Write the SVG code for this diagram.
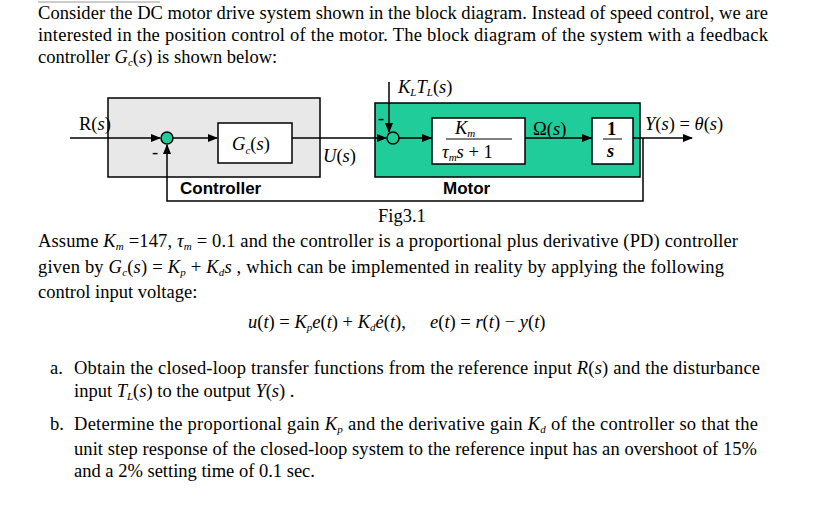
<svg xmlns="http://www.w3.org/2000/svg" width="818" height="524" viewBox="0 0 818 524">
<style>
text{font-family:"Liberation Serif",serif;font-size:18.5px;fill:#000}
.i{font-style:italic}
.b{font-family:"Liberation Sans",Arial,sans-serif;font-weight:bold;font-size:17px}
.l{stroke:#000;stroke-width:1.5;fill:none}
.box{fill:#fff;stroke:#000;stroke-width:1.5}
</style>
<defs><marker id="a" markerWidth="10" markerHeight="8" refX="9" refY="4" orient="auto" markerUnits="userSpaceOnUse"><path d="M0,0L10,4L0,8z" fill="#000"/></marker></defs>
<line x1="38" y1="2" x2="160" y2="2" stroke="#999" stroke-width="1"/>
<text x="38" y="19" textLength="730">Consider the DC motor drive system shown in the block diagram. Instead of speed control, we are</text>
<text x="38" y="41" textLength="730">interested in the position control of the motor. The block diagram of the system with a feedback</text>
<text x="38" y="63">controller <tspan class="i">G</tspan><tspan font-size="11" class="i" dy="3">c</tspan><tspan dy="-3">(</tspan><tspan class="i">s</tspan>) is shown below:</text>
<g id="controller"><rect x="108" y="98" width="212" height="79" fill="#e8e8e8" stroke="#000" stroke-width="1.5"/><text class="b" x="180" y="194">Controller</text></g>
<g id="motor"><rect x="375" y="103" width="265" height="74" fill="#1fcc9a" stroke="#000" stroke-width="1.5"/><text class="b" x="443" y="194">Motor</text></g>
<g id="sum1"><circle cx="167" cy="138" r="6" fill="#1fcc9a" stroke="#000" stroke-width="1.5"/><text x="152" y="158" font-size="13">-</text></g>
<g id="gc"><rect class="box" x="218" y="123" width="74" height="40"/><text x="232" y="150" font-size="20"><tspan class="i">G</tspan><tspan class="i" font-size="11" dy="4">c</tspan><tspan dy="-4">(</tspan><tspan class="i">s</tspan>)</text></g>
<g id="sum2"><circle cx="393" cy="138" r="6" fill="#1fcc9a" stroke="#000" stroke-width="1.5"/><text x="378" y="124" font-size="13">-</text></g>
<g id="km"><rect class="box" x="432" y="118" width="93" height="46"/><text class="i" x="455" y="134" font-size="19">K<tspan font-size="11" dy="3">m</tspan></text><line x1="446" y1="139" x2="512" y2="139" stroke="#000"/><text class="i" x="442" y="158" font-size="19">τ<tspan font-size="11" dy="3">m</tspan><tspan dy="-3">s</tspan><tspan font-style="normal"> + 1</tspan></text></g>
<g id="int"><rect class="box" x="592" y="118" width="41" height="46"/><text x="607" y="135" font-weight="bold">1</text><line x1="603" y1="139" x2="622" y2="139" stroke="#000"/><text class="i" x="607" y="157" font-weight="bold">s</text></g>
<g id="connectors">
<line class="l" x1="70" y1="138" x2="160" y2="138" marker-end="url(#a)"/>
<line class="l" x1="173" y1="138" x2="217" y2="138" marker-end="url(#a)"/>
<line class="l" x1="292" y1="138" x2="386" y2="138" marker-end="url(#a)"/>
<line class="l" x1="399" y1="138" x2="431" y2="138" marker-end="url(#a)"/>
<line class="l" x1="525" y1="138" x2="591" y2="138" marker-end="url(#a)"/>
<line class="l" x1="633" y1="138" x2="692" y2="138" marker-end="url(#a)"/>
<line class="l" x1="389" y1="82" x2="389" y2="132" marker-end="url(#a)"/>
<polyline class="l" points="643,138 643,201 167,201 167,145" marker-end="url(#a)"/>
</g>
<text x="79" y="130" font-size="14">R(<tspan class="i">s</tspan>)</text>
<text x="323" y="162" font-size="18"><tspan class="i">U</tspan>(<tspan class="i">s</tspan>)</text>
<text x="533" y="135" font-size="12">Ω(<tspan class="i">s</tspan>)</text>
<text x="645" y="130" font-size="16"><tspan class="i">Y</tspan>(<tspan class="i">s</tspan>) = <tspan class="i">θ</tspan>(<tspan class="i">s</tspan>)</text>
<text class="i" x="398" y="93" font-size="19">K<tspan font-size="11" dy="3">L</tspan><tspan dy="-3">T</tspan><tspan font-size="11" dy="3">L</tspan><tspan dy="-3" font-style="normal">(</tspan>s<tspan font-style="normal">)</tspan></text>
<text x="378" y="222" font-size="16">Fig3.1</text>
<text x="38" y="247" textLength="700">Assume <tspan class="i">K</tspan><tspan class="i" font-size="11" dy="3">m</tspan><tspan dy="-3"> =147, </tspan><tspan class="i">τ</tspan><tspan class="i" font-size="11" dy="3">m</tspan><tspan dy="-3"> = 0.1 and the controller is a proportional plus derivative (PD) controller</tspan></text>
<text x="38" y="273" textLength="686">given by <tspan class="i">G</tspan><tspan class="i" font-size="11" dy="3">c</tspan><tspan dy="-3">(</tspan><tspan class="i">s</tspan>) = <tspan class="i">K</tspan><tspan class="i" font-size="11" dy="3">p</tspan><tspan dy="-3"> + </tspan><tspan class="i">K</tspan><tspan class="i" font-size="11" dy="3">d</tspan><tspan dy="-3" class="i">s</tspan> , which can be implemented in reality by applying the following</text>
<text x="38" y="298">control input voltage:</text>
<text x="248" y="328"><tspan class="i">u</tspan>(<tspan class="i">t</tspan>) = <tspan class="i">K</tspan><tspan class="i" font-size="11" dy="3">p</tspan><tspan dy="-3" class="i">e</tspan>(<tspan class="i">t</tspan>) + <tspan class="i">K</tspan><tspan class="i" font-size="11" dy="3">d</tspan><tspan dy="-3" class="i">ė</tspan>(<tspan class="i">t</tspan>),</text>
<text x="430" y="328"><tspan class="i">e</tspan>(<tspan class="i">t</tspan>) = <tspan class="i">r</tspan>(<tspan class="i">t</tspan>) − <tspan class="i">y</tspan>(<tspan class="i">t</tspan>)</text>
<text x="50" y="374">a.</text>
<text x="74" y="374" textLength="686">Obtain the closed-loop transfer functions from the reference input <tspan class="i">R</tspan>(<tspan class="i">s</tspan>) and the disturbance</text>
<text x="74" y="397">input <tspan class="i">T</tspan><tspan class="i" font-size="11" dy="3">L</tspan><tspan dy="-3">(</tspan><tspan class="i">s</tspan>) to the output <tspan class="i">Y</tspan>(<tspan class="i">s</tspan>) .</text>
<text x="50" y="430">b.</text>
<text x="74" y="430" textLength="684">Determine the proportional gain <tspan class="i">K</tspan><tspan class="i" font-size="11" dy="3">p</tspan><tspan dy="-3"> and the derivative gain </tspan><tspan class="i">K</tspan><tspan class="i" font-size="11" dy="3">d</tspan><tspan dy="-3"> of the controller so that the</tspan></text>
<text x="74" y="455" textLength="683">unit step response of the closed-loop system to the reference input has an overshoot of 15%</text>
<text x="74" y="477">and a 2% setting time of 0.1 sec.</text>
</svg>
